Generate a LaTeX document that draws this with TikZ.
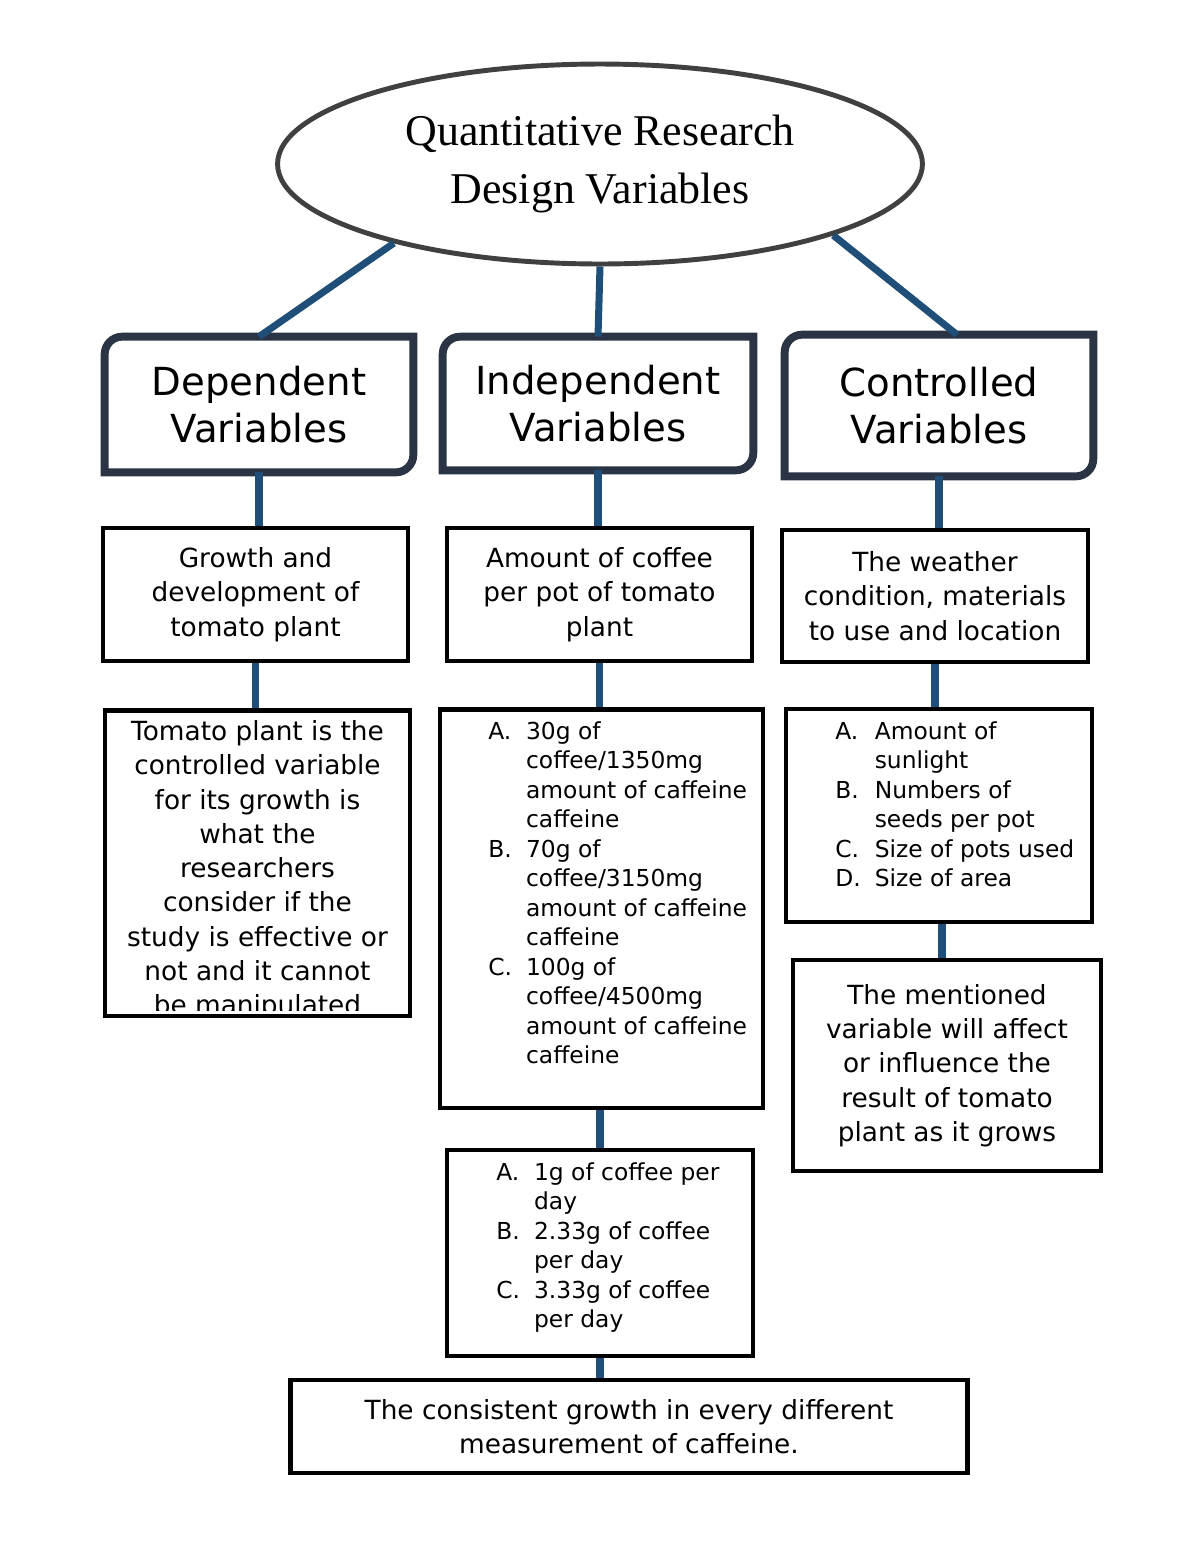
\documentclass[tikz,border=0pt]{standalone}
\usepackage{fontspec}
\setsansfont{DejaVu Sans}
\newfontfamily\ttlfont{Liberation Serif}
\usetikzlibrary{shapes.geometric,calc}
\definecolor{conn}{HTML}{1F4E79}
\definecolor{hdr}{HTML}{2B3445}
\definecolor{ell}{HTML}{404040}
\tikzset{
  conn/.style={draw=conn,line width=4pt},
  hbox/.style={draw=none,font=\sffamily\fontsize{22}{27}\selectfont,align=center,inner sep=0pt},
  hline/.style={draw=hdr,line width=4.5pt},
  box/.style={draw=black,line width=2.8pt,font=\sffamily\fontsize{15}{19.5}\selectfont,align=center,inner sep=0pt},
  lst/.style={font=\sffamily\fontsize{13.3}{16.8}\selectfont,inner sep=0pt}
}
\newcommand{\hdrframe}[1]{%
  \draw[hline] (#1.south west) -- ($(#1.north west)+(0,-0.35cm)$) arc[start angle=180,end angle=90,radius=0.35cm] -- (#1.north east) -- ($(#1.south east)+(0,0.35cm)$) arc[start angle=0,end angle=-90,radius=0.35cm] -- cycle;}
\begin{document}
\begin{tikzpicture}[x=0.02cm,y=0.02cm]
\useasboundingbox (0,0) rectangle (1200,-1553);
% title
\node[ellipse,draw=ell,line width=2.8pt,minimum width=12.9cm,minimum height=4cm,inner sep=0pt,align=center,font=\ttlfont\fontsize{25}{33}\selectfont] (t) at (600,-164) {Quantitative Research\\Design Variables};
% headers
\node[hbox,minimum width=6.16cm,minimum height=2.7cm] (h1) at (259,-404.5) {Dependent\\Variables};
\node[hbox,minimum width=6.2cm,minimum height=2.66cm] (h2) at (598,-403.5) {Independent\\Variables};
\node[hbox,minimum width=6.16cm,minimum height=2.82cm] (h3) at (939,-405.5) {Controlled\\Variables};
\hdrframe{h1}\hdrframe{h2}\hdrframe{h3}
% second row
\node[box,minimum width=6.1cm,minimum height=2.66cm] (a1) at (255.5,-594.5) {Growth and\\development of\\tomato plant};
\node[box,minimum width=6.1cm,minimum height=2.66cm] (a2) at (599.5,-594.5) {Amount of coffee\\per pot of tomato\\plant};
\node[box,minimum width=6.12cm,minimum height=2.64cm] (a3) at (935,-596) {The weather\\condition, materials\\to use and location};
% third row
\node[box,minimum width=6.1cm,minimum height=6.12cm] (b1) at (257.5,-863) {};
\begin{scope}
\clip (100,-712) rectangle (415,-1010);
\node[box,draw=none,anchor=north] (b1t) at (257.5,-718) {Tomato plant is the\\controlled variable\\for its growth is\\what the\\researchers\\consider if the\\study is effective or\\not and it cannot\\be manipulated};
\end{scope}
\node[box,minimum width=6.46cm,minimum height=7.98cm] (b2) at (601.5,-908.5) {};
\node[lst,anchor=north west] (b2t) at (488,-718) {\begin{tabular}{@{}l@{\hspace{0.6em}}l@{}}
A. & 30g of\\ & coffee/1350mg\\ & amount of caffeine\\ & caffeine\\
B. & 70g of\\ & coffee/3150mg\\ & amount of caffeine\\ & caffeine\\
C. & 100g of\\ & coffee/4500mg\\ & amount of caffeine\\ & caffeine\end{tabular}};
\node[box,minimum width=6.12cm,minimum height=4.26cm] (b3) at (939,-815.5) {};
\node[lst,anchor=north west] (b3t) at (835,-718) {\begin{tabular}{@{}l@{\hspace{0.6em}}l@{}}
A. & Amount of\\ & sunlight\\
B. & Numbers of\\ & seeds per pot\\
C. & Size of pots used\\
D. & Size of area\end{tabular}};
% fourth row
\node[box,minimum width=6.16cm,minimum height=4.22cm] (c3) at (947,-1065.5) {The mentioned\\variable will affect\\or influence the\\result of tomato\\plant as it grows};
\node[box,minimum width=6.12cm,minimum height=4.12cm] (c2) at (600,-1253) {};
\node[lst,anchor=north west] (c2t) at (496,-1159) {\begin{tabular}{@{}l@{\hspace{0.6em}}l@{}}
A. & 1g of coffee per\\ & day\\
B. & 2.33g of coffee\\ & per day\\
C. & 3.33g of coffee\\ & per day\end{tabular}};
\node[box,minimum width=13.56cm,minimum height=1.86cm] (d) at (629,-1426.5) {The consistent growth in every different\\measurement of caffeine.};
% connectors
\draw[conn] (t.201.8) -- (h1.north);
\draw[conn] (t.south) -- (h2.north);
\draw[conn] (t.343.2) -- ([xshift=0.36cm]h3.north);
\draw[conn] (h1.south) -- (h1.south |- a1.north);
\draw[conn] (h2.south) -- (h2.south |- a2.north);
\draw[conn] (h3.south) -- (h3.south |- a3.north);
\draw[conn] (a1.south) -- (a1.south |- b1.north);
\draw[conn] (a2.south) -- (a2.south |- b2.north);
\draw[conn] (a3.south) -- (a3.south |- b3.north);
\draw[conn] (b2.south -| c2.north) -- (c2.north);
\draw[conn] ([xshift=0.06cm]b3.south) -- ([xshift=0.06cm]b3.south |- c3.north);
\draw[conn] (c2.south) -- (c2.south |- d.north);
\end{tikzpicture}
\end{document}
